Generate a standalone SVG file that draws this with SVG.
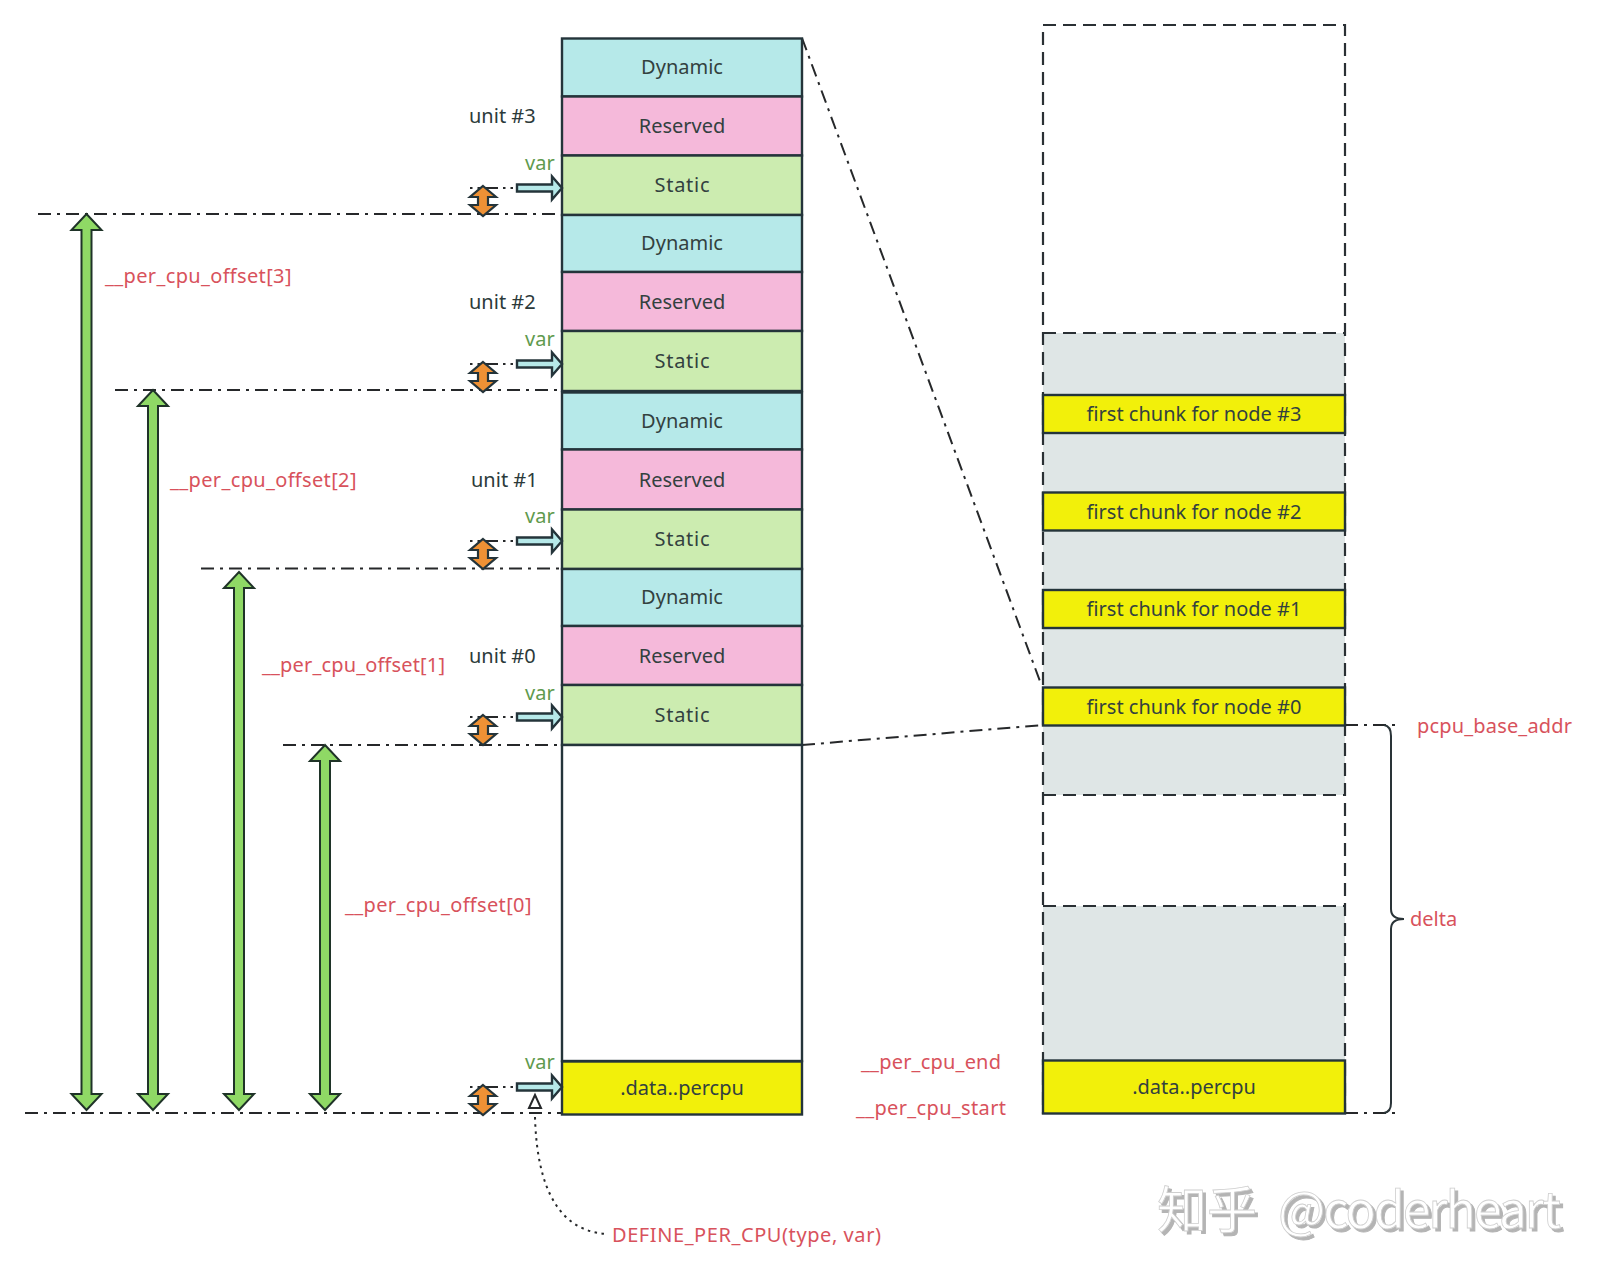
<svg xmlns="http://www.w3.org/2000/svg" xmlns:xlink="http://www.w3.org/1999/xlink" width="1598" height="1278" viewBox="0 0 1598 1278">
<style>
text{font-family:"Noto Sans","Open Sans",sans-serif;font-size:20px}
.c{text-anchor:middle;fill:#33413f}
.u{fill:#2c3a3a}
.r{fill:#d8525c}
.g{fill:#5f9a4e}
.b{stroke:#24343a;stroke-width:2.4}
.dyn{fill:#b6e9e9}.res{fill:#f5b9da}.sta{fill:#ccecb0}.yel{fill:#f2f00a}
.dd{fill:none;stroke:#26282a;stroke-width:2;stroke-dasharray:13 6 3 6}
.dash{fill:none;stroke:#2a3034;stroke-width:2.2;stroke-dasharray:13 7}
.gr{fill:#8fd965;stroke:#1f3328;stroke-width:2;stroke-linejoin:miter}
.or{fill:#ee9135;stroke:#24343a;stroke-width:2.2}
.va{fill:#b6e9e9;stroke:#24343a;stroke-width:2.4}
.wm{font-size:50px;font-family:"Noto Sans CJK SC","Noto Sans",sans-serif}
.ws{fill:#b4b4b4;stroke:#b4b4b4;stroke-width:1}
.wf{fill:#fff;stroke:#cfcfcf;stroke-width:.8}
</style>
<defs>
<g id="pin">
<path class="or" d="M0 -1L13 10H5V18H13L0 29L-13 18H-5V10H-13Z"/>
</g>
<g id="pt">
<path d="M-13 0H30" fill="none" stroke="#26282a" stroke-width="2" stroke-dasharray="2.5 5 2.5 5 13 5"/>
<path class="va" d="M34 -3.5H69V-11.500L79 0L69 11.500V3.500H34Z"/>
</g>
</defs>
<rect width="1598" height="1278" fill="#fff"/>

<g id="right-bands">
<rect x="1043" y="333" width="302" height="462" fill="#dfe6e6"/>
<rect x="1043" y="906" width="302" height="154" fill="#dfe6e6"/>
<rect x="1043" y="25" width="302" height="1088" class="dash"/>
<path class="dash" d="M1043 333H1345M1043 795H1345M1043 906H1345"/>
</g>

<g id="connectors">
<path class="dd" d="M38 214H562"/>
<path class="dd" d="M115 390H562"/>
<path class="dd" d="M201 568.500H562"/>
<path class="dd" d="M283 745H562"/>
<path class="dd" d="M25 1113H562"/>
<path class="dd" d="M802 38L1041 684"/>
<path class="dd" d="M802 745L1043 725"/>
<path class="dd" d="M1345 725H1400"/>
<path class="dd" d="M1345 1113H1400"/>
<path d="M1384 725Q1391 726 1391 736V909Q1391 919 1404 919Q1391 919 1391 929V1103Q1391 1112 1384 1113" fill="none" stroke="#2a3438" stroke-width="2"/>
<path d="M535 1117C537 1190 560 1232 608 1234" fill="none" stroke="#26282a" stroke-width="2" stroke-dasharray="2.500 4.500"/>
<path d="M535 1095L541 1108H529Z" fill="#fff" stroke="#26282a" stroke-width="2"/>
<path class="gr" d="M86.500 214L101.500 230H91.500V1094H101.500L86.500 1110L71.500 1094H81.500V230H71.500Z"/>
<path class="gr" d="M153 390L168 406H158V1094H168L153 1110L138 1094H148V406H138Z"/>
<path class="gr" d="M239 572L254 588H244V1094H254L239 1110L224 1094H234V588H224Z"/>
<path class="gr" d="M325 745L340 761H330V1094H340L325 1110L310 1094H320V761H310Z"/>
</g>

<g id="unit-3">
<rect class="dyn b" x="562" y="38.500" width="240" height="58"/><text class="c" x="682" y="74">Dynamic</text>
<rect class="res b" x="562" y="96.500" width="240" height="59"/><text class="c" x="682" y="133">Reserved</text>
<rect class="sta b" x="562" y="155.500" width="240" height="59.500"/><text class="c" x="682" y="192" textLength="55">Static</text>
<text class="u" x="469" y="123">unit #3</text><text class="g" x="525" y="170">var</text>
<use xlink:href="#pt" href="#pt" x="483" y="188"/><use xlink:href="#pin" href="#pin" x="483" y="187"/>
</g>
<g id="unit-2">
<rect class="dyn b" x="562" y="215" width="240" height="57"/><text class="c" x="682" y="250">Dynamic</text>
<rect class="res b" x="562" y="272" width="240" height="59"/><text class="c" x="682" y="309">Reserved</text>
<rect class="sta b" x="562" y="331" width="240" height="60"/><text class="c" x="682" y="368" textLength="55">Static</text>
<text class="u" x="469" y="309">unit #2</text><text class="g" x="525" y="346">var</text>
<use xlink:href="#pt" href="#pt" x="483" y="364"/><use xlink:href="#pin" href="#pin" x="483" y="363"/>
</g>
<g id="unit-1">
<rect class="dyn b" x="562" y="392.500" width="240" height="57"/><text class="c" x="682" y="428">Dynamic</text>
<rect class="res b" x="562" y="449.500" width="240" height="60"/><text class="c" x="682" y="487">Reserved</text>
<rect class="sta b" x="562" y="509.500" width="240" height="59.500"/><text class="c" x="682" y="546" textLength="55">Static</text>
<text class="u" x="471" y="487">unit #1</text><text class="g" x="525" y="523">var</text>
<use xlink:href="#pt" href="#pt" x="483" y="541"/><use xlink:href="#pin" href="#pin" x="483" y="540"/>
</g>
<g id="unit-0">
<rect class="dyn b" x="562" y="569" width="240" height="57"/><text class="c" x="682" y="604">Dynamic</text>
<rect class="res b" x="562" y="626" width="240" height="59"/><text class="c" x="682" y="663">Reserved</text>
<rect class="sta b" x="562" y="685" width="240" height="60"/><text class="c" x="682" y="722" textLength="55">Static</text>
<text class="u" x="469" y="663">unit #0</text><text class="g" x="525" y="700">var</text>
<use xlink:href="#pt" href="#pt" x="483" y="717"/><use xlink:href="#pin" href="#pin" x="483" y="716"/>
</g>
<g id="left-empty"><rect x="562" y="745" width="240" height="316" fill="#fff" class="b"/></g>
<g id="left-data">
<rect class="yel b" x="562" y="1061.500" width="240" height="53"/><text class="c" x="682" y="1095">.data..percpu</text>
<text class="g" x="525" y="1069">var</text>
<use xlink:href="#pt" href="#pt" x="483" y="1087"/><use xlink:href="#pin" href="#pin" x="483" y="1086"/>
</g>

<g id="chunk-3"><rect class="yel b" x="1043" y="395" width="302" height="38"/><text class="c" x="1194" y="421">first chunk for node #3</text></g>
<g id="chunk-2"><rect class="yel b" x="1043" y="492.500" width="302" height="38"/><text class="c" x="1194" y="519">first chunk for node #2</text></g>
<g id="chunk-1"><rect class="yel b" x="1043" y="590" width="302" height="38"/><text class="c" x="1194" y="616">first chunk for node #1</text></g>
<g id="chunk-0"><rect class="yel b" x="1043" y="687.500" width="302" height="38"/><text class="c" x="1194" y="714">first chunk for node #0</text></g>
<g id="right-data"><rect class="yel b" x="1043" y="1060.500" width="302" height="53"/><text class="c" x="1194" y="1094">.data..percpu</text></g>

<g id="labels">
<text class="r" x="105" y="283" textLength="186.500">__per_cpu_offset[3]</text>
<text class="r" x="170" y="487" textLength="186.500">__per_cpu_offset[2]</text>
<text class="r" x="262" y="672" textLength="183">__per_cpu_offset[1]</text>
<text class="r" x="345" y="912" textLength="186.500">__per_cpu_offset[0]</text>
<text class="r" x="861" y="1069" textLength="140">__per_cpu_end</text>
<text class="r" x="856" y="1115" textLength="150">__per_cpu_start</text>
<text class="r" x="612" y="1242" textLength="269">DEFINE_PER_CPU(type, var)</text>
<text class="r" x="1417" y="733" textLength="155">pcpu_base_addr</text>
<text class="r" x="1410" y="926">delta</text>
</g>

<g id="watermark">
<text class="wm ws" x="1160" y="1231" textLength="100">知乎</text>
<text class="wm wf" x="1157" y="1228" textLength="100">知乎</text>
<text class="wm ws" x="1281" y="1231" textLength="283">@coderheart</text>
<text class="wm wf" x="1278" y="1228" textLength="283">@coderheart</text>
</g>
</svg>
